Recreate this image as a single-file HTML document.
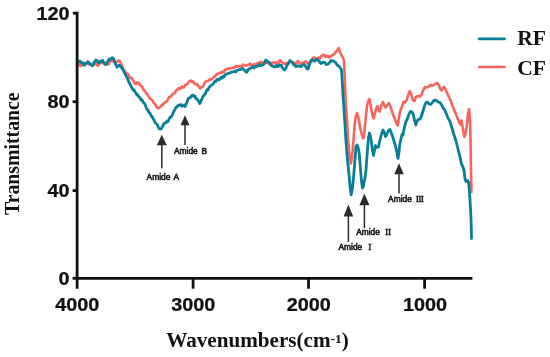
<!DOCTYPE html>
<html><head><meta charset="utf-8"><title>FTIR</title>
<style>
html,body{margin:0;padding:0;background:#fff;}
body{width:550px;height:357px;overflow:hidden;}
svg{display:block;}
.tk{font-family:"Liberation Sans","Noto Sans CJK SC",sans-serif;font-weight:bold;font-size:18px;fill:#111;stroke:#111;stroke-width:0.25px;}
.ax{font-family:"Liberation Serif","Noto Serif CJK SC",serif;font-weight:bold;fill:#111;}
.am{font-family:"Liberation Sans","Noto Sans CJK SC",sans-serif;font-weight:normal;font-size:8.4px;fill:#1a1a1a;stroke:#1a1a1a;stroke-width:0.6px;word-spacing:1.4px;}
.rn{font-family:"Liberation Serif","Noto Serif CJK SC",serif;font-weight:bold;font-size:7.8px;stroke-width:0.3px;}
</style></head><body>
<svg width="550" height="357" viewBox="0 0 550 357">
<rect width="550" height="357" fill="#fff"/>
<polyline points="78,64 78.65,64.22 79.3,64.44 79.95,65.74 80.6,66 81.2,64.94 81.8,65.31 82.4,64.66 83,64.5 83.6,63.69 84.2,64.31 84.8,63.46 85.4,63.99 86,64 86.67,62.98 87.33,62.68 88,63 88.67,63.38 89.33,64.52 90,64.5 90.67,64.23 91.33,64.72 92,65.5 92.6,65.2 93.2,65.22 93.8,64.12 94.4,63.33 95,63 95.6,64.28 96.2,63.31 96.8,65.13 97.4,64.74 98,65.6 98.67,64.33 99.33,63.59 100,63.5 100.67,62.69 101.33,63.01 102,62 102.67,61.99 103.33,63.13 104,63.5 104.67,63.89 105.33,63.63 106,64 106.65,64.13 107.3,63.4 107.95,63.45 108.6,64.2 109.3,62.38 110,61.5 110.67,61.46 111.33,60.72 112,60.5 112.67,60.7 113.33,61.64 114,62 114.67,61.93 115.33,61.68 116,62 116.67,62.14 117.33,61.65 118,61 118.75,60.49 119.5,60.8 120.25,62.27 121,63.5 122.0,65.82 123,68 124.0,70.48 125,71 126.0,72.85 127,73.5 128.0,74.2 129,76 130.0,78.25 131,78 132.0,78.26 133,80.5 134.0,82.04 135,84 136.0,83.92 137,82.5 138.0,82.35 139,84 140.0,84.97 141,86 142.0,86.3 143,89 144.0,90.44 145,91 146.0,93.19 147,94 148.0,95.69 149,97 150.0,98.98 151,99 152.0,99.77 153,101.5 154.0,103.26 155,104 156.0,105.75 157,107 157.75,107.96 158.5,108.5 159.25,107.64 160,107 161.0,106.63 162,104.5 163.0,105.01 164,103.2 165.0,102.43 166,101.8 167.0,100.98 168,99.3 169.0,97.11 170,97.2 171.0,96.37 172,94.5 173.0,94.13 174,93 175.0,93.03 176,90.5 177.0,90.34 178,88.5 179.0,88.19 180,89 181.0,87.45 182,86.5 183.0,87.44 184,87.5 185.0,85.01 186,85 187.0,84.15 188,83.5 189.0,81.39 190,81 191.0,80.5 192,82 193.0,81.35 194,83 195.0,84.2 196,84 197.0,84.04 198,86 199.0,86.59 200,88.5 201.0,87.47 202,87 203.0,86.72 204,84.5 205.0,81.91 206,81.5 207.0,81.12 208,81 209.0,80.13 210,79 211.0,79.75 212,78.5 213.0,78.33 214,76.5 215.0,76.7 216,75 217.0,73.92 218,74 219.0,73.28 220,73 221.0,72.13 222.0,73.0 223,71.5 224.0,72.19 225.0,69.59 226,70 227.0,68.82 228.0,68.64 229,69 230.0,67.97 231.0,68.29 232,68 233.0,68.07 234.0,67.05 235,67.5 236.0,65.88 237.0,66.62 238,66.5 239.0,65.99 240.0,66.34 241,66 242.0,66.43 243,64.5 244.0,65.5 245,65.5 246.0,65.37 247.0,65.47 248,65 249.0,65.29 250.0,63.51 251,64.5 252.0,65.37 253.0,64.89 254,64 255.0,64.81 256.0,64.44 257,63.5 258.0,63.05 259.0,62.9 260,63 261.0,61.97 262.0,63.35 263,63 264.0,61.86 265.0,61.88 266,63 267.0,62.58 268.0,62.79 269,64 270.0,63.58 271.0,62.84 272,64 273.0,62.37 274.0,62.43 275,63 276.0,62.13 277.0,62.98 278,63.5 279.25,60.67 280.5,60.3 281.25,62.12 282,62 283.0,63.3 284,64 285.0,63.34 286,64.5 287.0,63.11 288,63 289.0,62.1 290,62 291.0,61.9 292,62.5 293.0,62.27 294,64 295.0,64.16 296,62.5 296.85,63.03 297.7,61 298.85,62.16 300,63.5 301.0,63.71 302,64 303.0,62.42 304,63 305.25,61.47 306.5,62 307.25,62.84 308,64.5 309.0,62.64 310,62 311.0,61.61 312,59.5 313.0,57.87 314,58 315.0,57.51 316,59.5 317.0,59.67 318,57.5 319.0,58.07 320,58.5 321.0,56.33 322,56 323,54.5 323.75,55.36 324.5,56 325.25,55.27 326,57 327.0,56.57 328,56 329.0,57.49 330,56.5 331.0,56.69 332,55 333.0,55.01 334,54 334.75,52.88 335.5,53 336.25,51.4 337,50.5 338.7,48 340,52 341.4,55 343,58 344,61 344.6,75 345.2,90 346,105 347,120 348,138 349,150 350,160 350.8,163.5 351.8,158 353,147 354,133 355,121 356,115.5 357.2,113 358.3,117 359.5,124 360.6,130 362,135 363.2,138.5 364.2,134 365.2,123 366.3,112 367.3,104.5 368.4,100.5 369.4,99 370.4,104 371.4,110 372.4,115 373.4,118.5 374.5,115 376,109 377.4,106 378.5,108.5 379.5,111.5 381,107 382.8,102 384,104.5 385.5,107.5 387,105.5 388.9,103 390,105.5 391.5,110 393,114.5 394.5,118 396,122 397.6,125.5 398.6,120 399.6,113.5 401,109 402.5,105 403.7,101.5 405,102.5 406.7,100 408,95.5 409.8,91 411,93.5 412,97.5 413.2,100.5 414.5,101 416,97 418,96 420,96.5 421.5,95 423,90.5 425,87 427,87.5 429,86 431,85 433,85.5 435,84 437,83 438.5,84.5 440,88 441.4,90.5 443,88.5 444.4,87 446,90.5 448,95 450,99 452,104.5 454,109.5 456,114.5 457.5,118 459,122 460.2,124.5 461.5,120.5 462.5,126 463.5,133 464.3,137 465.3,134 466.2,130 467,124 468,114 469,109 469.7,116 470.3,130 470.7,150 471,170 471.4,192" fill="none" stroke="#f9645e" stroke-width="2.6" stroke-linejoin="round" stroke-linecap="round"/>
<polyline points="77.5,62.5 78.17,61.58 78.83,61.57 79.5,61 80.12,61.29 80.75,62.17 81.38,62.7 82,63 82.65,62.8 83.3,63.22 83.95,65.04 84.6,65 85.23,63.95 85.87,63.24 86.5,63 87.2,63.19 87.9,61.8 88.6,62.32 89.3,63.47 90,63.5 90.6,64.01 91.2,64.82 91.8,64.59 92.4,65.7 92.93,64.85 93.47,64.16 94,62.5 94.6,61.7 95.2,61.22 95.8,60 96.37,60.77 96.93,60.3 97.5,61.5 98.03,62.41 98.57,62.65 99.1,63 99.67,62.18 100.23,61.25 100.8,61.5 101.37,61.68 101.93,60.66 102.5,60.3 103.25,61.75 104,62.5 104.6,63.81 105.2,64.24 105.8,64.6 106.37,64.24 106.93,62.37 107.5,61.5 108.07,61.15 108.63,59.74 109.2,59 109.8,59.63 110.4,59.47 111,58.8 111.7,57.96 112.4,57.82 113.1,58.2 113.8,59.15 114.5,61 115.25,63.74 116,65 117,67.2 117.6,66.5 118.2,66 119.3,65.2 119.87,66.0 120.43,66.08 121,67 121.8,68.02 122.6,69 124,72 125.0,73.7 126,76 127.0,77.61 128,80 129.0,82.22 130,84 131.0,86.22 132,88 133.0,90.05 134,90 135.0,91.97 136,93 137.0,95.12 138,95 139.0,97.18 140,97.5 141.0,100.03 142,100 143.0,101.95 144,103 145.0,104.12 146,107 147.0,109.44 148,110 149.0,112.71 150,113 151.0,115.8 152,116.5 153.0,118.43 154,120 155.0,122.31 156,123.5 157.0,124.25 158,126.5 159.0,128.61 160,129 160.75,128.94 161.5,128.5 162.25,126.69 163,126 164.0,123.36 165,123 166.0,122.92 167,121 168.0,121.52 169,119.5 170.0,117.18 171,117 172.0,115.78 173,113 174.0,111.02 175,109.5 176.0,107.34 177,107 178.0,105.46 179,105 180.0,105.45 181,104.5 182.0,106.22 183,106 184.0,105.06 185,106.5 186.0,104.55 187,102 188.0,98.82 189,98 190.0,97.82 191,96.5 192.0,95.31 193,95 194.0,96.49 195,96 196.0,98.75 197,99 198.0,100.51 199,102 199.75,103.55 200.5,102.5 201.25,100.26 202,99 203.0,96.15 204,95.5 205.0,94.01 206,92 207.0,89.78 208,90 209.0,87.46 210,86.5 211.0,85.51 212,85 213.0,84.04 214,82.5 215.0,81.11 216,81.5 217.0,79.31 218,79.5 219.0,79.96 220,78.5 221.0,77.35 222.0,78.36 223,76.5 224.0,76.86 225.0,74.85 226,74.5 227.0,73.9 228.0,73.55 229,73 230.0,73.04 231.0,72.58 232,72 233.0,71.82 234.0,71.65 235,71 236.0,71.81 237.0,70.35 238,70 239.0,69.57 240,69.5 241.0,69.57 242,68.5 243.0,68.57 244,70 245.0,70.48 246,72 247.0,71.99 248,69.5 249.0,69.05 250,68.5 251.0,68.13 252,67.5 253.0,66.48 254,68 255.0,67.03 256,66.5 257.0,66.46 258,66 259.0,64.5 260,65.5 261.0,65.55 262,65 263.0,64.84 264,64 265,62 265.75,60.11 266.5,60.5 267.25,61.33 268,61.5 269.0,62.41 270,63.5 271.0,65.22 272,66 273.0,66.12 274,67 275.0,66.79 276,65.5 277.0,66.62 278,66.5 279.0,64.76 280,65.5 281.0,65.11 282,67 283.0,68.71 284,69.5 285.0,69.95 286,68 287.0,65.35 288,64 289.0,62.14 290,60.5 291.0,61.49 292,62 293.0,63.03 294,65 295.0,65.4 296,66.5 297.0,65.76 298,66 299.0,65.91 300,66.5 301.0,66.5 302,66 303.0,64.73 304,64.5 305.0,65.43 306,67 307.0,68.71 308,69 309,66 310,63 311.0,60.27 312,60 313.0,60.68 314,61 315.0,60.86 316,59.5 317.0,59.51 318,60.5 319.0,60.78 320,62.5 321.0,63.54 322,63 323.0,62.07 324,62.5 325.0,62.69 326,64.5 327.0,64.08 328,64 329.0,63.51 330,62 331.0,60.46 332,61 333.0,60.79 334,61.5 335.0,61.82 336,63 337.0,65.12 338,65.5 340,67.5 341.5,70 342.3,82 343,95 344,110 345,125 346,142 347.5,160 349,175 350.3,189 351.2,194.8 352.3,189 353.3,180 354.3,168 355.3,155 356.0,147 357,145 358.3,148 359.4,155 360.4,168 361.4,180 362.4,188 363.4,186 364.8,179 366,170 367.3,152 368.4,138 369.4,133 370.4,136 371.4,142 372.4,150 373.5,155.5 374.5,150 375.5,145.5 377,147.5 378.5,147 379.5,142 380.5,138 381.8,133 383,130 384.3,132.5 385.5,136.5 387,134 388.5,130.5 389.7,129.5 391,132 392.6,136.5 394,141 395.6,146.5 397,153 398,158.5 399,152 399.8,144 401,139 402,134.5 403,135 404,129 405,125 406,121.5 407.5,118.5 409,114 410.5,111.5 412,112 413.2,114 414.5,120 415.8,125 417,121 418.5,119.5 420,119 421.5,116 423,111 424.5,106 426,102.5 427.5,102 429,104 430.5,104.5 432,103 433.5,101 435,100 436.5,100.5 438,102 440,102.5 442,105.5 443,108 444.5,109.5 446,113 448,118 450,121.5 452,128 454,135 456,141 458,149 460,157 461.5,164 463,167 464,170 465,179 466,181.5 467.5,180.5 468.5,182 469.3,190 470,200 470.7,212 471.2,225 471.5,238.5" fill="none" stroke="#087f96" stroke-width="2.8" stroke-linejoin="round" stroke-linecap="round"/>
<!-- axes -->
<g stroke="#111" stroke-width="2.8" fill="none">
<line x1="77.1" y1="11.8" x2="77.1" y2="288.7"/>
<line x1="76.3" y1="278.3" x2="472.4" y2="278.3"/>
<line x1="72.8" y1="13.2" x2="77" y2="13.2"/>
<line x1="72.6" y1="101.7" x2="77" y2="101.7"/>
<line x1="72.6" y1="190.6" x2="77" y2="190.6"/>
<line x1="72.6" y1="278.3" x2="77" y2="278.3"/>
<line x1="193.1" y1="278.3" x2="193.1" y2="288.7"/>
<line x1="308.5" y1="278.3" x2="308.5" y2="288.7"/>
<line x1="424.6" y1="278.3" x2="424.6" y2="288.7"/>
</g>
<g class="tk" text-anchor="end">
<text transform="translate(69.6,20) scale(1.1,1)">120</text>
<text transform="translate(69.6,108.3) scale(1.1,1)">80</text>
<text transform="translate(69.6,197) scale(1.1,1)">40</text>
<text transform="translate(69.6,284.7) scale(1.1,1)">0</text>
</g>
<g class="tk" text-anchor="middle">
<text transform="translate(77.2,311) scale(1.1,1)">4000</text>
<text transform="translate(193.2,311) scale(1.1,1)">3000</text>
<text transform="translate(308.7,311) scale(1.1,1)">2000</text>
<text transform="translate(425,311) scale(1.1,1)">1000</text>
</g>
<text class="ax" font-size="19.8" transform="translate(18.8,215.1) rotate(-90) scale(1,1.1)">Transmittance</text>
<text class="ax" font-size="21.15" x="166.2" y="346.8">Wavenumbers(cm<tspan font-size="13.5" dy="-3.8">-1</tspan><tspan dy="3.8">)</tspan></text>
<!-- legend -->
<line x1="479.2" y1="38.9" x2="504.6" y2="38.9" stroke="#087f96" stroke-width="2.6" stroke-linecap="round"/>
<line x1="479.2" y1="67" x2="504.6" y2="67" stroke="#f9645e" stroke-width="2.4" stroke-linecap="round"/>
<text class="ax" font-size="21.6" x="517.2" y="45.2">RF</text>
<text class="ax" font-size="21.6" x="517.2" y="74.5">CF</text>
<!-- arrows -->
<line x1="161.8" y1="144.3" x2="161.8" y2="168.3" stroke="#2b2b2b" stroke-width="1.5"/><polygon points="161.8,134.8 156.8,145.3 166.8,145.3" fill="#2b2b2b"/>
<line x1="185" y1="124.2" x2="185" y2="145.1" stroke="#2b2b2b" stroke-width="1.5"/><polygon points="185,115.2 180.5,125.2 189.5,125.2" fill="#2b2b2b"/>
<line x1="348.4" y1="215.5" x2="348.4" y2="242" stroke="#2b2b2b" stroke-width="1.5"/><polygon points="348.4,204.6 343.59999999999997,216.5 353.2,216.5" fill="#2b2b2b"/>
<line x1="364.4" y1="204.3" x2="364.4" y2="228.3" stroke="#2b2b2b" stroke-width="1.5"/><polygon points="364.4,193.6 359.4,205.3 369.4,205.3" fill="#2b2b2b"/>
<line x1="399" y1="173.3" x2="399" y2="193.4" stroke="#2b2b2b" stroke-width="1.5"/><polygon points="399,163.2 394.2,174.3 403.8,174.3" fill="#2b2b2b"/>
<g class="am">
<text x="146.6" y="180">Amide A</text>
<text x="174" y="153.6">Amide B</text>
<text x="338.5" y="249.9">Amide <tspan class="rn" x="370" text-anchor="middle">Ⅰ</tspan></text>
<text x="356.2" y="234.8">Amide <tspan class="rn" x="388.1" text-anchor="middle">Ⅱ</tspan></text>
<text x="388.1" y="201.7">Amide <tspan class="rn" x="419.9" text-anchor="middle">Ⅲ</tspan></text>
</g>
</svg>
</body></html>
